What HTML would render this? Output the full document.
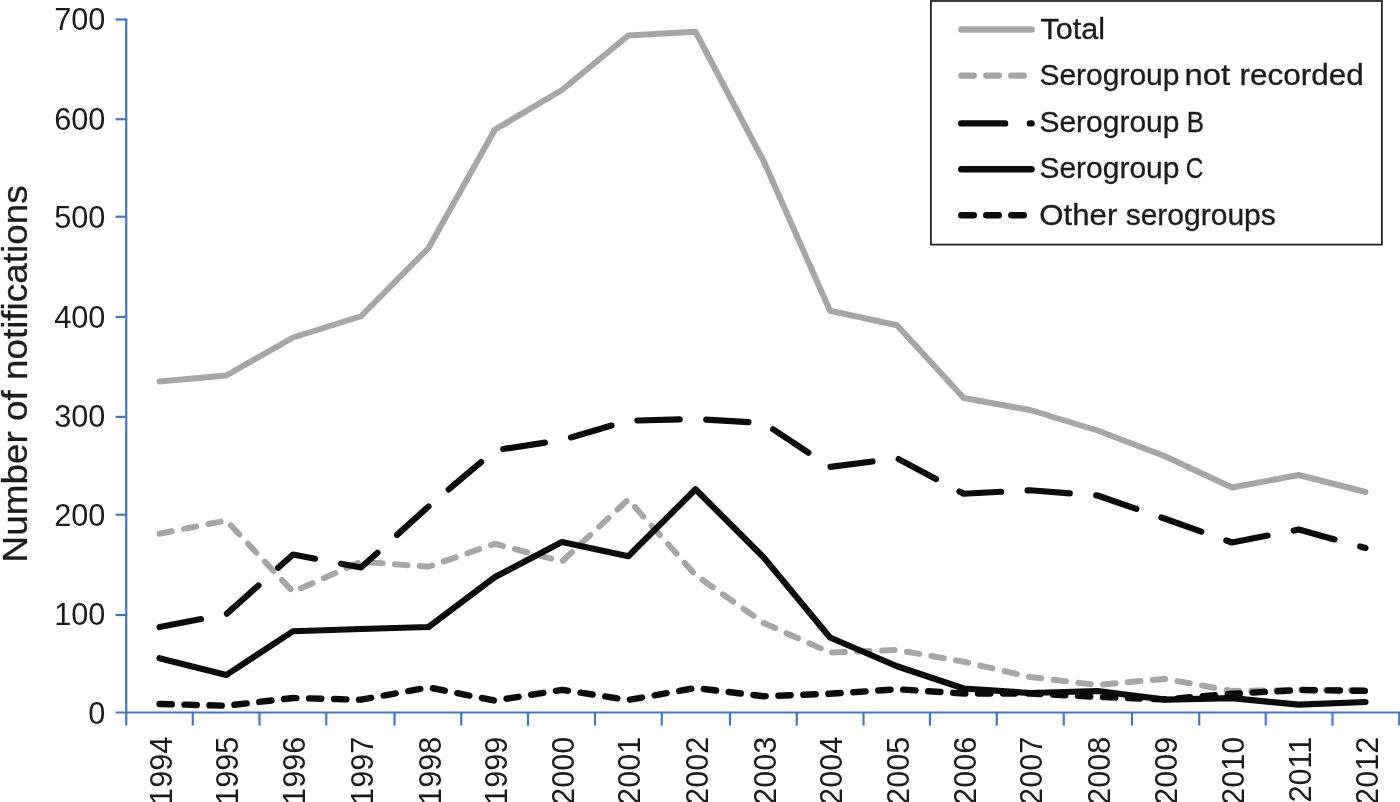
<!DOCTYPE html>
<html><head><meta charset="utf-8"><title>Notifications by serogroup</title>
<style>html,body{margin:0;padding:0;background:#fff;overflow:hidden}svg{display:block}text{font-family:"Liberation Sans",Arial,sans-serif;fill:#1c1a1b}</style></head><body>
<svg width="1400" height="802" viewBox="0 0 1400 802">
<rect width="1400" height="802" fill="#fff"/>
<g stroke="#4079c1" stroke-width="2.2" fill="none">
<line x1="126.25" y1="18.4" x2="126.25" y2="725.6"/>
<line x1="115.6" y1="712.5" x2="1400" y2="712.5"/>
<line x1="115.6" y1="615" x2="126.25" y2="615"/>
<line x1="115.6" y1="514.7" x2="126.25" y2="514.7"/>
<line x1="115.6" y1="416.9" x2="126.25" y2="416.9"/>
<line x1="115.6" y1="316.9" x2="126.25" y2="316.9"/>
<line x1="115.6" y1="216.7" x2="126.25" y2="216.7"/>
<line x1="115.6" y1="119.25" x2="126.25" y2="119.25"/>
<line x1="115.6" y1="19.5" x2="126.25" y2="19.5"/>
<line x1="192.75" y1="712.5" x2="192.75" y2="725.6"/>
<line x1="259.5" y1="712.5" x2="259.5" y2="725.6"/>
<line x1="326.25" y1="712.5" x2="326.25" y2="725.6"/>
<line x1="394.5" y1="712.5" x2="394.5" y2="725.6"/>
<line x1="461.25" y1="712.5" x2="461.25" y2="725.6"/>
<line x1="528" y1="712.5" x2="528" y2="725.6"/>
<line x1="595" y1="712.5" x2="595" y2="725.6"/>
<line x1="661.75" y1="712.5" x2="661.75" y2="725.6"/>
<line x1="730" y1="712.5" x2="730" y2="725.6"/>
<line x1="796.75" y1="712.5" x2="796.75" y2="725.6"/>
<line x1="863.5" y1="712.5" x2="863.5" y2="725.6"/>
<line x1="930" y1="712.5" x2="930" y2="725.6"/>
<line x1="996.75" y1="712.5" x2="996.75" y2="725.6"/>
<line x1="1063.75" y1="712.5" x2="1063.75" y2="725.6"/>
<line x1="1132" y1="712.5" x2="1132" y2="725.6"/>
<line x1="1199.25" y1="712.5" x2="1199.25" y2="725.6"/>
<line x1="1265.75" y1="712.5" x2="1265.75" y2="725.6"/>
<line x1="1332.5" y1="712.5" x2="1332.5" y2="725.6"/>
<line x1="1399.25" y1="712.5" x2="1399.25" y2="725.6"/>
</g>
<g font-size="30.7" text-anchor="end">
<text x="105.4" y="723.70">0</text>
<text x="105.4" y="625.30">100</text>
<text x="105.4" y="525.90">200</text>
<text x="105.4" y="427.30">300</text>
<text x="105.4" y="327.65">400</text>
<text x="105.4" y="228.40">500</text>
<text x="105.4" y="129.90">600</text>
<text x="105.4" y="30.00">700</text>
</g>
<g font-size="30.7" text-anchor="end">
<text transform="translate(171.70 736.6) rotate(-90)">1994</text>
<text transform="translate(238.45 736.6) rotate(-90)">1995</text>
<text transform="translate(305.20 736.6) rotate(-90)">1996</text>
<text transform="translate(373.20 736.6) rotate(-90)">1997</text>
<text transform="translate(440.70 736.6) rotate(-90)">1998</text>
<text transform="translate(507.20 736.6) rotate(-90)">1999</text>
<text transform="translate(574.20 736.6) rotate(-90)">2000</text>
<text transform="translate(640.45 736.6) rotate(-90)">2001</text>
<text transform="translate(707.70 736.6) rotate(-90)">2002</text>
<text transform="translate(775.95 736.6) rotate(-90)">2003</text>
<text transform="translate(842.20 736.6) rotate(-90)">2004</text>
<text transform="translate(909.20 736.6) rotate(-90)">2005</text>
<text transform="translate(975.95 736.6) rotate(-90)">2006</text>
<text transform="translate(1042.20 736.6) rotate(-90)">2007</text>
<text transform="translate(1109.70 736.6) rotate(-90)">2008</text>
<text transform="translate(1177.20 736.6) rotate(-90)">2009</text>
<text transform="translate(1244.20 736.6) rotate(-90)">2010</text>
<text transform="translate(1310.95 736.6) rotate(-90)">2011</text>
<text transform="translate(1377.70 736.6) rotate(-90)">2012</text>
</g>
<text transform="translate(27.3 562.4) rotate(-90)" font-size="35.3" stroke="#1c1a1b" stroke-width="0.3" textLength="377" lengthAdjust="spacingAndGlyphs">Number of notifications</text>
<g fill="none" stroke-linecap="round" stroke-linejoin="round">
<polyline points="159.5,381.5 226.25,375.5 293,337.5 361,316.25 428.5,248 495,129.5 562,90 628.25,35.5 695.5,31.75 763.75,161.25 830,310.75 897,325.25 963.75,398 1030,410 1097.5,430.5 1165,456.25 1232,487.5 1298.75,475 1365.5,492" stroke="#a6a6a6" stroke-width="6"/>
<polyline points="159.5,533.75 226.25,520.5 293,591.75 361,561.75 428.5,566.75 495,543.75 562,561.5 628.25,499.5 695.5,575 763.75,623 830,652.5 897,650 963.75,661.75 1030,677 1097.5,684.9 1165,678.9 1232,690.9 1298.75,690 1365.5,690" stroke="#a6a6a6" stroke-width="6" stroke-dasharray="12.5 12.42"/>
<polyline points="159.5,627 226.25,614.25 293,554.5 361,567.5 428.5,506.5 495,450.25 562,440 628.25,420.75 695.5,419 763.75,423 830,467 897,458.25 963.75,493.75 1030,490.25 1097.5,495.5 1165,518.75 1232,542.5 1298.75,529.5 1365.5,548" stroke="#0b0b0b" stroke-width="6.2" stroke-dasharray="42.3 26.55"/>
<polyline points="159.5,658.25 226.25,675 293,631.25 361,629 428.5,627 495,577 562,542 628.25,556.25 695.5,489.25 763.75,557.5 830,637.5 897,666.25 963.75,688.5 1030,693 1097.5,691 1165,699.6 1232,698.2 1298.75,704.6 1365.5,702" stroke="#0b0b0b" stroke-width="6.2"/>
<polyline points="159.5,704 226.25,705.75 293,698 361,699.7 428.5,687.4 495,700.6 562,689.8 628.25,700 695.5,688 763.75,696.25 830,693.75 897,689.25 963.75,693.5 1030,693.5 1097.5,696.9 1165,699.4 1232,693.8 1298.75,690 1365.5,690.9" stroke="#0b0b0b" stroke-width="6.4" stroke-dasharray="12.3 12.7"/>
</g>
<rect x="930.9" y="1" width="451" height="243.6" fill="#fff" stroke="#1c1a1b" stroke-width="1.7"/>
<g fill="none" stroke-linecap="round">
<line x1="961.3" y1="29.5" x2="1031.6" y2="29.5" stroke="#a6a6a6" stroke-width="6.4"/>
<line x1="961.3" y1="75.6" x2="1031.6" y2="75.6" stroke="#a6a6a6" stroke-width="6.4" stroke-dasharray="12.5 12.5"/>
<line x1="961.3" y1="123.4" x2="1031.6" y2="123.4" stroke="#0b0b0b" stroke-width="6.4" stroke-dasharray="43.8 24.8"/>
<line x1="961.3" y1="169.2" x2="1031.6" y2="169.2" stroke="#0b0b0b" stroke-width="6.4"/>
<line x1="961.3" y1="215.2" x2="1031.6" y2="215.2" stroke="#0b0b0b" stroke-width="6.4" stroke-dasharray="12.5 12.5"/>
</g>
<g font-size="29" stroke="#1c1a1b" stroke-width="0.3">
<text y="38.75"><tspan x="1040.45" textLength="64.58" lengthAdjust="spacingAndGlyphs">Total</tspan></text>
<text y="85"><tspan x="1039.42" textLength="140.02" lengthAdjust="spacingAndGlyphs">Serogroup</tspan> <tspan x="1184.44" textLength="45.64" lengthAdjust="spacingAndGlyphs">not</tspan> <tspan x="1239.53" textLength="124.27" lengthAdjust="spacingAndGlyphs">recorded</tspan></text>
<text y="131.8"><tspan x="1039.42" textLength="140.02" lengthAdjust="spacingAndGlyphs">Serogroup</tspan> <tspan x="1186.67" textLength="17.22" lengthAdjust="spacingAndGlyphs">B</tspan></text>
<text y="178"><tspan x="1039.42" textLength="140.02" lengthAdjust="spacingAndGlyphs">Serogroup</tspan> <tspan x="1185.86" textLength="17.64" lengthAdjust="spacingAndGlyphs">C</tspan></text>
<text y="224.6"><tspan x="1039.38" textLength="77.89" lengthAdjust="spacingAndGlyphs">Other</tspan> <tspan x="1125.67" textLength="150.16" lengthAdjust="spacingAndGlyphs">serogroups</tspan></text>
</g>
</svg></body></html>
